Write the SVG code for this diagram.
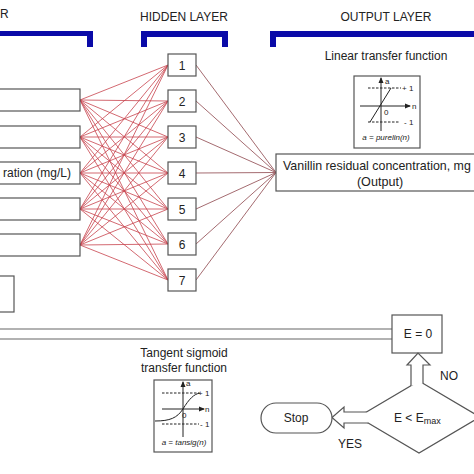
<svg xmlns="http://www.w3.org/2000/svg" width="474" height="474" viewBox="0 0 474 474">
<defs>
<style>
text{font-family:"Liberation Sans",Arial,sans-serif;fill:#222}
.box{fill:#fff;stroke:#555;stroke-width:1.2}
.blue{fill:#0a0aa8}
.ih{stroke:#c8424c;stroke-width:0.8;fill:none}
.ho{stroke:#9a5a60;stroke-width:0.9;fill:none}
.ax{stroke:#222;stroke-width:1;fill:none}
.dash{stroke:#222;stroke-width:1;stroke-dasharray:2.5,1.5;fill:none}
.sm{font-size:8px}
.lbl{font-size:12px}
.dbl{stroke:#666;stroke-width:1.2;fill:none}
</style>
<marker id="ah" viewBox="0 0 6 6" refX="5" refY="3" markerWidth="6" markerHeight="6" orient="auto" markerUnits="userSpaceOnUse">
<path d="M0,0.5 L6,3 L0,5.5 Z" fill="#222"/>
</marker>
</defs>
<rect width="474" height="474" fill="#fff"/>

<g id="headers">
<text x="0" y="18" class="lbl">R</text>
<path class="blue" d="M0,31 H93 V47 H87 V36 H0 Z"/>
<text x="184" y="21" class="lbl" text-anchor="middle">HIDDEN LAYER</text>
<path class="blue" d="M141,47 V31 H228 V47 H222 V37 H147 V47 Z"/>
<text x="386" y="21" class="lbl" text-anchor="middle">OUTPUT LAYER</text>
<path class="blue" d="M270,47 V31 H474 V37 H276 V47 Z"/>
</g>

<g id="connectors">
<g class="ih">
<line x1="80" y1="100" x2="168" y2="65"/><line x1="80" y1="100" x2="168" y2="101"/><line x1="80" y1="100" x2="168" y2="137"/><line x1="80" y1="100" x2="168" y2="173"/><line x1="80" y1="100" x2="168" y2="209"/><line x1="80" y1="100" x2="168" y2="244"/><line x1="80" y1="100" x2="168" y2="280"/>
<line x1="80" y1="137" x2="168" y2="65"/><line x1="80" y1="137" x2="168" y2="101"/><line x1="80" y1="137" x2="168" y2="137"/><line x1="80" y1="137" x2="168" y2="173"/><line x1="80" y1="137" x2="168" y2="209"/><line x1="80" y1="137" x2="168" y2="244"/><line x1="80" y1="137" x2="168" y2="280"/>
<line x1="80" y1="173" x2="168" y2="65"/><line x1="80" y1="173" x2="168" y2="101"/><line x1="80" y1="173" x2="168" y2="137"/><line x1="80" y1="173" x2="168" y2="173"/><line x1="80" y1="173" x2="168" y2="209"/><line x1="80" y1="173" x2="168" y2="244"/><line x1="80" y1="173" x2="168" y2="280"/>
<line x1="80" y1="209" x2="168" y2="65"/><line x1="80" y1="209" x2="168" y2="101"/><line x1="80" y1="209" x2="168" y2="137"/><line x1="80" y1="209" x2="168" y2="173"/><line x1="80" y1="209" x2="168" y2="209"/><line x1="80" y1="209" x2="168" y2="244"/><line x1="80" y1="209" x2="168" y2="280"/>
<line x1="80" y1="245" x2="168" y2="65"/><line x1="80" y1="245" x2="168" y2="101"/><line x1="80" y1="245" x2="168" y2="137"/><line x1="80" y1="245" x2="168" y2="173"/><line x1="80" y1="245" x2="168" y2="209"/><line x1="80" y1="245" x2="168" y2="244"/><line x1="80" y1="245" x2="168" y2="280"/>
</g>
<g class="ho">
<line x1="196" y1="65" x2="276" y2="172.5"/><line x1="196" y1="101" x2="276" y2="172.5"/><line x1="196" y1="137" x2="276" y2="172.5"/><line x1="196" y1="173" x2="276" y2="172.5"/><line x1="196" y1="209" x2="276" y2="172.5"/><line x1="196" y1="244" x2="276" y2="172.5"/><line x1="196" y1="280" x2="276" y2="172.5"/>
</g>
<line class="dbl" x1="0" y1="329" x2="392" y2="329"/>
<line class="dbl" x1="0" y1="339" x2="392" y2="339"/>
</g>

<g id="inputs">
<rect class="box" x="-5" y="89" width="85" height="22"/>
<rect class="box" x="-5" y="126" width="85" height="22"/>
<rect class="box" x="-5" y="162" width="85" height="22"/>
<text x="71" y="177" class="lbl" text-anchor="end">ration (mg/L)</text>
<rect class="box" x="-5" y="198" width="85" height="22"/>
<rect class="box" x="-5" y="234" width="85" height="22"/>
<rect class="box" x="-5" y="276" width="19" height="36"/>
</g>

<g id="hidden">
<rect class="box" x="168" y="54" width="28" height="22"/><text x="182" y="69.5" class="lbl" text-anchor="middle">1</text>
<rect class="box" x="168" y="90" width="28" height="22"/><text x="182" y="105.5" class="lbl" text-anchor="middle">2</text>
<rect class="box" x="168" y="126" width="28" height="22"/><text x="182" y="141.5" class="lbl" text-anchor="middle">3</text>
<rect class="box" x="168" y="162" width="28" height="22"/><text x="182" y="177.5" class="lbl" text-anchor="middle">4</text>
<rect class="box" x="168" y="198" width="28" height="22"/><text x="182" y="213.5" class="lbl" text-anchor="middle">5</text>
<rect class="box" x="168" y="233" width="28" height="22"/><text x="182" y="248.5" class="lbl" text-anchor="middle">6</text>
<rect class="box" x="168" y="269" width="28" height="22"/><text x="182" y="284.5" class="lbl" text-anchor="middle">7</text>
</g>

<g id="output">
<rect class="box" x="276" y="154" width="220" height="37"/>
<text x="283" y="170" font-size="12.4">Vanillin residual concentration, mg</text>
<text x="380" y="186" font-size="12.6" text-anchor="middle">(Output)</text>
</g>

<g id="linear-function">
<text x="386" y="60" class="lbl" text-anchor="middle">Linear transfer function</text>
<rect class="box" x="354" y="76" width="66" height="72"/>
<line class="ax" x1="381" y1="131" x2="381" y2="78" marker-end="url(#ah)"/>
<line class="ax" x1="360" y1="106" x2="410" y2="106" marker-end="url(#ah)"/>
<line class="dash" x1="368" y1="88" x2="401" y2="88"/>
<line class="dash" x1="368" y1="122" x2="400" y2="122"/>
<line class="ax" x1="370" y1="122" x2="391" y2="88"/>
<text x="385" y="84" class="sm">a</text>
<text x="412" y="109" class="sm">n</text>
<text x="384" y="115" class="sm">0</text>
<text x="402" y="91" class="sm">+ 1</text>
<text x="404" y="125" class="sm">- 1</text>
<text x="386" y="140" class="sm" text-anchor="middle" font-style="italic" font-size="8.5">a = purelin(n)</text>
</g>

<g id="sigmoid-function">
<text x="184" y="357" class="lbl" text-anchor="middle">Tangent sigmoid</text>
<text x="184" y="372" class="lbl" text-anchor="middle">transfer function</text>
<rect class="box" x="154" y="380" width="58" height="72"/>
<line class="ax" x1="183" y1="437" x2="183" y2="382" marker-end="url(#ah)"/>
<line class="ax" x1="162" y1="409" x2="204" y2="409" marker-end="url(#ah)"/>
<line class="dash" x1="162" y1="393" x2="199" y2="393"/>
<line class="dash" x1="162" y1="424" x2="199" y2="424"/>
<path class="ax" d="M155,421 C170,421 177,418 183,409 C189,399 194,394 200,393"/>
<text x="186" y="386" class="sm">a</text>
<text x="205" y="412" class="sm" font-size="9">n</text>
<text x="182" y="418" class="sm">0</text>
<text x="198" y="396" class="sm">+ 1</text>
<text x="200" y="427" class="sm">- 1</text>
<text x="184" y="445" class="sm" text-anchor="middle" font-style="italic" font-size="8.5">a = tansig(n)</text>
</g>

<g id="E-zero">
<rect class="box" x="392" y="315" width="50" height="38"/>
<text x="418" y="338" class="lbl" text-anchor="middle">E = 0</text>
</g>

<g id="decision">
<path class="box" d="M419,381 L480,417 L419,453 L358,417 Z"/>
<text x="394" y="422" class="lbl">E &lt; E<tspan font-size="9" dy="2">max</tspan></text>
</g>

<g id="arrows">
<path d="M411,385.7 L411,365 L407,365 L418,353 L430,365 L423,365 L423,383.4" fill="#fff" stroke="#555" stroke-width="1.2"/>
<path d="M366.5,412 L344,412 L344,407 L332,417.5 L344,428 L344,423 L368,423" fill="#fff" stroke="#555" stroke-width="1.2"/>
<text x="440" y="380" class="lbl">NO</text>
<text x="338" y="448" class="lbl">YES</text>
</g>

<g id="stop">
<rect class="box" x="261" y="403" width="71" height="30" rx="15"/>
<text x="296" y="422" class="lbl" text-anchor="middle">Stop</text>
</g>
</svg>
